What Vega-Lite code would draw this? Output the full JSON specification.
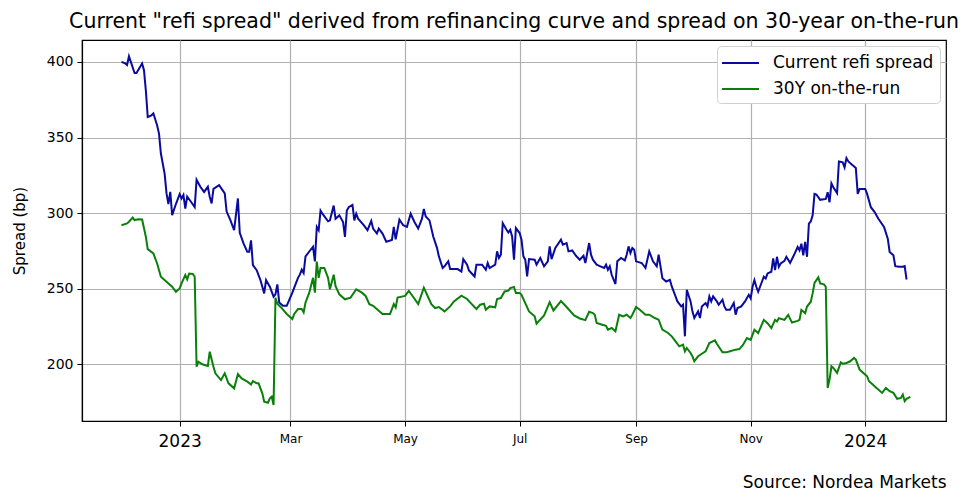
{
  "$schema": "https://vega.github.io/schema/vega-lite/v6.json",
  "autosize": {"type": "none"},
  "width": 864,
  "height": 381,
  "padding": {"left": 82, "top": 40, "right": 29, "bottom": 83},
  "background": "white",
  "title": {"text": "Current \"refi spread\" derived from refinancing curve and spread on 30-year on-the-run", "fontSize": 20.5, "font": "DejaVu Sans", "fontWeight": "normal", "anchor": "middle", "offset": 8, "color": "black"},
  "config": {
    "view": {"stroke": "black", "strokeWidth": 1.2},
    "font": "DejaVu Sans",
    "axis": {"labelFont": "DejaVu Sans", "titleFont": "DejaVu Sans", "labelColor": "black", "titleColor": "black", "domainColor": "black", "tickColor": "black", "gridColor": "#b0b0b0", "gridWidth": 1.2, "tickSize": 5, "domainWidth": 1.2, "titleFontWeight": "normal"}
  },
  "datasets": {
    "refi": [
      {"date":"2022-12-01","value":400},{"date":"2022-12-03","value":399},{"date":"2022-12-04","value":398},{"date":"2022-12-05","value":403.7},{"date":"2022-12-06","value":400},{"date":"2022-12-08","value":392.7},{"date":"2022-12-09","value":392.7},{"date":"2022-12-12","value":399},{"date":"2022-12-13","value":394.5},{"date":"2022-12-14","value":381},{"date":"2022-12-15","value":363.6},{"date":"2022-12-17","value":364.7},{"date":"2022-12-18","value":366},{"date":"2022-12-20","value":358},{"date":"2022-12-21","value":352.6},{"date":"2022-12-22","value":339.4},{"date":"2022-12-24","value":326},{"date":"2022-12-25","value":313},{"date":"2022-12-26","value":306},{"date":"2022-12-27","value":314},{"date":"2022-12-28","value":298.7},{"date":"2022-12-30","value":306},
      {"date":"2023-01-01","value":312.5},{"date":"2023-01-02","value":309.7},{"date":"2023-01-03","value":312},{"date":"2023-01-04","value":303},{"date":"2023-01-05","value":311},{"date":"2023-01-07","value":307.5},{"date":"2023-01-09","value":304},{"date":"2023-01-10","value":322},{"date":"2023-01-12","value":317.4},{"date":"2023-01-14","value":314},{"date":"2023-01-16","value":317.4},{"date":"2023-01-17","value":310.8},{"date":"2023-01-18","value":306.4},{"date":"2023-01-19","value":316},{"date":"2023-01-22","value":318.5},{"date":"2023-01-25","value":313},{"date":"2023-01-26","value":301},{"date":"2023-01-28","value":295.4},{"date":"2023-01-30","value":288.7},
      {"date":"2023-02-01","value":309.7},{"date":"2023-02-02","value":287},{"date":"2023-02-04","value":280},{"date":"2023-02-06","value":274.4},{"date":"2023-02-07","value":274.4},{"date":"2023-02-08","value":282},{"date":"2023-02-09","value":265.6},{"date":"2023-02-11","value":262.3},{"date":"2023-02-13","value":255.7},{"date":"2023-02-15","value":246.9},{"date":"2023-02-16","value":255.7},{"date":"2023-02-18","value":251.3},{"date":"2023-02-20","value":244.7},{"date":"2023-02-21","value":246.3},{"date":"2023-02-22","value":252.8},{"date":"2023-02-23","value":240.9},{"date":"2023-02-25","value":238.7},{"date":"2023-02-27","value":238.7},
      {"date":"2023-03-02","value":247.4},{"date":"2023-03-03","value":250.7},{"date":"2023-03-05","value":257.2},{"date":"2023-03-06","value":259.3},{"date":"2023-03-07","value":262.6},{"date":"2023-03-08","value":260.4},{"date":"2023-03-09","value":271.3},{"date":"2023-03-11","value":274.6},{"date":"2023-03-13","value":277.8},{"date":"2023-03-14","value":268},{"date":"2023-03-15","value":290.9},{"date":"2023-03-16","value":288.7},{"date":"2023-03-17","value":301.7},{"date":"2023-03-18","value":299.6},{"date":"2023-03-21","value":294.6},{"date":"2023-03-22","value":295.2},{"date":"2023-03-24","value":305},{"date":"2023-03-25","value":296.3},{"date":"2023-03-27","value":298.5},{"date":"2023-03-29","value":294.1},{"date":"2023-03-30","value":284.3},{"date":"2023-03-31","value":301.7},
      {"date":"2023-04-01","value":303.9},{"date":"2023-04-03","value":305.4},{"date":"2023-04-04","value":295.2},{"date":"2023-04-05","value":299.6},{"date":"2023-04-06","value":296.3},{"date":"2023-04-09","value":292},{"date":"2023-04-11","value":288.7},{"date":"2023-04-13","value":294.8},{"date":"2023-04-14","value":289.8},{"date":"2023-04-16","value":286.5},{"date":"2023-04-17","value":289.8},{"date":"2023-04-19","value":286.5},{"date":"2023-04-21","value":281.1},{"date":"2023-04-24","value":282.2},{"date":"2023-04-25","value":290.9},{"date":"2023-04-26","value":282.6},{"date":"2023-04-28","value":295.7},{"date":"2023-04-30","value":292},
      {"date":"2023-05-02","value":290.9},{"date":"2023-05-04","value":299.6},{"date":"2023-05-06","value":294.1},{"date":"2023-05-08","value":289.8},{"date":"2023-05-10","value":296.3},{"date":"2023-05-11","value":302.8},{"date":"2023-05-12","value":297.8},{"date":"2023-05-14","value":295.2},{"date":"2023-05-16","value":284.5},{"date":"2023-05-18","value":277},{"date":"2023-05-19","value":271.4},{"date":"2023-05-21","value":263.7},{"date":"2023-05-22","value":264.8},{"date":"2023-05-24","value":268.1},{"date":"2023-05-25","value":263},{"date":"2023-05-27","value":263},{"date":"2023-05-29","value":263},{"date":"2023-05-31","value":261.4},
      {"date":"2023-06-01","value":269.6},{"date":"2023-06-03","value":265.9},{"date":"2023-06-04","value":262.1},{"date":"2023-06-07","value":258.1},{"date":"2023-06-08","value":265.9},{"date":"2023-06-11","value":265.9},{"date":"2023-06-13","value":262.5},{"date":"2023-06-14","value":267},{"date":"2023-06-15","value":263.7},{"date":"2023-06-18","value":265.9},{"date":"2023-06-19","value":274.7},{"date":"2023-06-20","value":270.3},{"date":"2023-06-21","value":272.5},{"date":"2023-06-22","value":293.4},{"date":"2023-06-24","value":289},{"date":"2023-06-25","value":287.2},{"date":"2023-06-26","value":289},{"date":"2023-06-27","value":284.6},{"date":"2023-06-28","value":269.2},{"date":"2023-06-29","value":290.1},
      {"date":"2023-07-01","value":286.8},{"date":"2023-07-02","value":282.4},{"date":"2023-07-03","value":271.4},{"date":"2023-07-04","value":269.2},{"date":"2023-07-05","value":258.1},{"date":"2023-07-06","value":269.6},{"date":"2023-07-09","value":269.2},{"date":"2023-07-10","value":265.9},{"date":"2023-07-12","value":270.3},{"date":"2023-07-14","value":264.8},{"date":"2023-07-16","value":268.1},{"date":"2023-07-17","value":278},{"date":"2023-07-18","value":269.6},{"date":"2023-07-20","value":276.9},{"date":"2023-07-23","value":282.4},{"date":"2023-07-24","value":279.1},{"date":"2023-07-26","value":280.2},{"date":"2023-07-27","value":274.7},{"date":"2023-07-29","value":275.3},{"date":"2023-07-31","value":271.8},
      {"date":"2023-08-02","value":269.2},{"date":"2023-08-04","value":271.8},{"date":"2023-08-05","value":267},{"date":"2023-08-07","value":280.2},{"date":"2023-08-08","value":272.5},{"date":"2023-08-09","value":269.2},{"date":"2023-08-11","value":265.9},{"date":"2023-08-13","value":264.8},{"date":"2023-08-15","value":263.7},{"date":"2023-08-16","value":265.9},{"date":"2023-08-17","value":262.5},{"date":"2023-08-18","value":264.8},{"date":"2023-08-19","value":259.2},{"date":"2023-08-21","value":253.1},{"date":"2023-08-22","value":268.1},{"date":"2023-08-24","value":270.3},{"date":"2023-08-26","value":268.7},{"date":"2023-08-27","value":272.5},{"date":"2023-08-28","value":278},{"date":"2023-08-29","value":273.6},{"date":"2023-08-30","value":276.9},{"date":"2023-08-31","value":275.8},
      {"date":"2023-09-01","value":268.1},{"date":"2023-09-04","value":267},{"date":"2023-09-06","value":263.7},{"date":"2023-09-08","value":274.7},{"date":"2023-09-10","value":268.1},{"date":"2023-09-12","value":264.8},{"date":"2023-09-13","value":272.5},{"date":"2023-09-15","value":257},{"date":"2023-09-17","value":254.8},{"date":"2023-09-19","value":255.9},{"date":"2023-09-20","value":251.5},{"date":"2023-09-22","value":244.9},{"date":"2023-09-23","value":241.6},{"date":"2023-09-25","value":238.3},{"date":"2023-09-26","value":239.4},{"date":"2023-09-27","value":218.5},{"date":"2023-09-28","value":249.3},{"date":"2023-09-30","value":241.6},
      {"date":"2023-10-01","value":235},{"date":"2023-10-02","value":230.6},{"date":"2023-10-04","value":235},{"date":"2023-10-05","value":230.6},{"date":"2023-10-06","value":238.3},{"date":"2023-10-08","value":240.5},{"date":"2023-10-09","value":238.3},{"date":"2023-10-10","value":244.9},{"date":"2023-10-11","value":241.6},{"date":"2023-10-12","value":244.9},{"date":"2023-10-14","value":241.6},{"date":"2023-10-15","value":239.4},{"date":"2023-10-17","value":242.7},{"date":"2023-10-18","value":238.3},{"date":"2023-10-19","value":236.1},{"date":"2023-10-21","value":236.1},{"date":"2023-10-23","value":240.5},{"date":"2023-10-24","value":232.8},{"date":"2023-10-25","value":237.2},{"date":"2023-10-27","value":238.3},{"date":"2023-10-29","value":241.6},{"date":"2023-10-31","value":246},
      {"date":"2023-11-01","value":243.6},{"date":"2023-11-02","value":251.3},{"date":"2023-11-03","value":255.7},{"date":"2023-11-04","value":251.3},{"date":"2023-11-05","value":248},{"date":"2023-11-07","value":254.6},{"date":"2023-11-08","value":257.9},{"date":"2023-11-09","value":256.8},{"date":"2023-11-10","value":260.1},{"date":"2023-11-12","value":261.2},{"date":"2023-11-13","value":270},{"date":"2023-11-14","value":262.3},{"date":"2023-11-15","value":271.1},{"date":"2023-11-16","value":264.5},{"date":"2023-11-17","value":266.7},{"date":"2023-11-19","value":268.4},{"date":"2023-11-20","value":271.1},{"date":"2023-11-22","value":267.1},{"date":"2023-11-24","value":272.1},{"date":"2023-11-26","value":277.6},{"date":"2023-11-27","value":275.4},{"date":"2023-11-28","value":279.8},{"date":"2023-11-29","value":272.1},{"date":"2023-11-30","value":280.9},
      {"date":"2023-12-01","value":271.1},{"date":"2023-12-02","value":293},{"date":"2023-12-03","value":294.5},{"date":"2023-12-04","value":298.5},{"date":"2023-12-05","value":312.7},{"date":"2023-12-06","value":312.3},{"date":"2023-12-08","value":308.8},{"date":"2023-12-11","value":309.4},{"date":"2023-12-12","value":313.8},{"date":"2023-12-13","value":307.2},{"date":"2023-12-14","value":319.7},{"date":"2023-12-15","value":317.1},{"date":"2023-12-17","value":313.2},{"date":"2023-12-18","value":334.2},{"date":"2023-12-20","value":333.6},{"date":"2023-12-21","value":330.3},{"date":"2023-12-22","value":336.4},{"date":"2023-12-23","value":334.2},{"date":"2023-12-25","value":332},{"date":"2023-12-27","value":329.8},{"date":"2023-12-28","value":312.7},{"date":"2023-12-29","value":316},
      {"date":"2024-01-01","value":316},{"date":"2024-01-02","value":312.7},{"date":"2024-01-04","value":303.9},{"date":"2024-01-06","value":300.7},{"date":"2024-01-08","value":296.3},{"date":"2024-01-11","value":290.8},{"date":"2024-01-13","value":283.1},{"date":"2024-01-14","value":274.3},{"date":"2024-01-16","value":272.1},{"date":"2024-01-17","value":264.9},{"date":"2024-01-19","value":264.5},{"date":"2024-01-21","value":264.5},{"date":"2024-01-22","value":264.9},{"date":"2024-01-23","value":256.1}
    ],
    "otr": [
      {"date":"2022-12-01","value":292},{"date":"2022-12-04","value":293.2},{"date":"2022-12-05","value":294.3},{"date":"2022-12-07","value":297},{"date":"2022-12-08","value":295.4},{"date":"2022-12-10","value":296},{"date":"2022-12-12","value":295.8},{"date":"2022-12-14","value":284.3},{"date":"2022-12-15","value":276.2},{"date":"2022-12-18","value":273.3},{"date":"2022-12-20","value":266.7},{"date":"2022-12-22","value":257.9},{"date":"2022-12-25","value":254.6},{"date":"2022-12-28","value":251.3},{"date":"2022-12-30","value":248},
      {"date":"2023-01-01","value":250.2},{"date":"2023-01-02","value":253.5},{"date":"2023-01-04","value":259},{"date":"2023-01-05","value":256.1},{"date":"2023-01-06","value":260},{"date":"2023-01-08","value":259.7},{"date":"2023-01-09","value":257.9},{"date":"2023-01-10","value":198.4},{"date":"2023-01-11","value":201.7},{"date":"2023-01-13","value":200},{"date":"2023-01-16","value":198.9},{"date":"2023-01-17","value":208.3},{"date":"2023-01-19","value":198.4},{"date":"2023-01-20","value":194},{"date":"2023-01-23","value":189.6},{"date":"2023-01-25","value":194},{"date":"2023-01-27","value":187.4},{"date":"2023-01-30","value":184.1},
      {"date":"2023-02-01","value":193.6},{"date":"2023-02-03","value":190.7},{"date":"2023-02-06","value":188.5},{"date":"2023-02-08","value":186.7},{"date":"2023-02-09","value":188.9},{"date":"2023-02-11","value":187.4},{"date":"2023-02-12","value":187.4},{"date":"2023-02-14","value":180.8},{"date":"2023-02-15","value":175.3},{"date":"2023-02-17","value":174.6},{"date":"2023-02-18","value":177.5},{"date":"2023-02-19","value":178.6},{"date":"2023-02-20","value":173.1},{"date":"2023-02-21","value":244},{"date":"2023-02-22","value":240},{"date":"2023-02-24","value":237.6},{"date":"2023-02-27","value":233.3},
      {"date":"2023-03-02","value":230},{"date":"2023-03-03","value":233.3},{"date":"2023-03-05","value":236.5},{"date":"2023-03-07","value":236.5},{"date":"2023-03-08","value":234.3},{"date":"2023-03-09","value":240.9},{"date":"2023-03-11","value":247.4},{"date":"2023-03-13","value":257.2},{"date":"2023-03-14","value":247.4},{"date":"2023-03-15","value":268},{"date":"2023-03-16","value":257.2},{"date":"2023-03-17","value":263.7},{"date":"2023-03-19","value":263.7},{"date":"2023-03-21","value":257.2},{"date":"2023-03-22","value":249.6},{"date":"2023-03-24","value":259.3},{"date":"2023-03-25","value":251.7},{"date":"2023-03-27","value":246.3},{"date":"2023-03-30","value":243},
      {"date":"2023-04-02","value":244.1},{"date":"2023-04-05","value":249.6},{"date":"2023-04-08","value":247.4},{"date":"2023-04-10","value":245.2},{"date":"2023-04-12","value":239.8},{"date":"2023-04-14","value":238.7},{"date":"2023-04-17","value":235.4},{"date":"2023-04-19","value":233.3},{"date":"2023-04-20","value":233.3},{"date":"2023-04-23","value":233.3},{"date":"2023-04-25","value":239.8},{"date":"2023-04-26","value":237.6},{"date":"2023-04-27","value":244.1},
      {"date":"2023-05-01","value":245.2},{"date":"2023-05-03","value":248.5},{"date":"2023-05-05","value":245.2},{"date":"2023-05-08","value":239.8},{"date":"2023-05-11","value":250.7},{"date":"2023-05-13","value":245.2},{"date":"2023-05-15","value":239.8},{"date":"2023-05-17","value":237.2},{"date":"2023-05-19","value":237.9},{"date":"2023-05-22","value":235},{"date":"2023-05-25","value":238.3},{"date":"2023-05-27","value":241.6},{"date":"2023-05-31","value":245.4},
      {"date":"2023-06-03","value":243.2},{"date":"2023-06-05","value":240.5},{"date":"2023-06-08","value":236.6},{"date":"2023-06-10","value":239.4},{"date":"2023-06-12","value":240.1},{"date":"2023-06-13","value":236.1},{"date":"2023-06-15","value":238.3},{"date":"2023-06-18","value":237.7},{"date":"2023-06-19","value":243.2},{"date":"2023-06-21","value":243.8},{"date":"2023-06-23","value":248.2},{"date":"2023-06-25","value":248.7},{"date":"2023-06-26","value":250.4},{"date":"2023-06-28","value":251.1},{"date":"2023-06-29","value":247.1},
      {"date":"2023-07-01","value":247.1},{"date":"2023-07-02","value":246},{"date":"2023-07-04","value":240.5},{"date":"2023-07-06","value":235},{"date":"2023-07-09","value":231.7},{"date":"2023-07-10","value":226.8},{"date":"2023-07-14","value":232.3},{"date":"2023-07-17","value":241.1},{"date":"2023-07-19","value":235.6},{"date":"2023-07-23","value":241.8},{"date":"2023-07-26","value":237.9},{"date":"2023-07-30","value":232.3},
      {"date":"2023-08-02","value":230.3},{"date":"2023-08-05","value":229.2},{"date":"2023-08-07","value":234.7},{"date":"2023-08-09","value":233.9},{"date":"2023-08-10","value":232.8},{"date":"2023-08-11","value":227.3},{"date":"2023-08-14","value":226.2},{"date":"2023-08-16","value":225.5},{"date":"2023-08-17","value":222.9},{"date":"2023-08-19","value":224},{"date":"2023-08-21","value":221.8},{"date":"2023-08-23","value":232.8},{"date":"2023-08-25","value":231.7},{"date":"2023-08-27","value":232.8},{"date":"2023-08-29","value":230.6},{"date":"2023-08-30","value":232.8},
      {"date":"2023-09-01","value":237.9},{"date":"2023-09-03","value":236.1},{"date":"2023-09-06","value":232.8},{"date":"2023-09-08","value":232.8},{"date":"2023-09-11","value":230.6},{"date":"2023-09-13","value":229.5},{"date":"2023-09-15","value":222.9},{"date":"2023-09-18","value":220.7},{"date":"2023-09-20","value":218.5},{"date":"2023-09-22","value":215.2},{"date":"2023-09-24","value":211.9},{"date":"2023-09-26","value":213},{"date":"2023-09-27","value":208.6},{"date":"2023-09-28","value":210.8},{"date":"2023-09-30","value":207.5},
      {"date":"2023-10-01","value":205.3},{"date":"2023-10-02","value":202},{"date":"2023-10-04","value":205.3},{"date":"2023-10-06","value":207},{"date":"2023-10-08","value":208.6},{"date":"2023-10-10","value":214.1},{"date":"2023-10-13","value":215.8},{"date":"2023-10-14","value":213.6},{"date":"2023-10-17","value":207.9},{"date":"2023-10-19","value":207.9},{"date":"2023-10-21","value":208.6},{"date":"2023-10-24","value":209.7},{"date":"2023-10-26","value":210.1},{"date":"2023-10-28","value":213},{"date":"2023-10-30","value":217.4},
      {"date":"2023-11-01","value":216.2},{"date":"2023-11-03","value":222.8},{"date":"2023-11-05","value":220.6},{"date":"2023-11-08","value":229.4},{"date":"2023-11-10","value":227.2},{"date":"2023-11-12","value":223.9},{"date":"2023-11-14","value":229.4},{"date":"2023-11-15","value":228.3},{"date":"2023-11-16","value":230.5},{"date":"2023-11-19","value":229.4},{"date":"2023-11-21","value":232.7},{"date":"2023-11-23","value":227.6},{"date":"2023-11-26","value":228.7},{"date":"2023-11-27","value":229.4},{"date":"2023-11-28","value":236},{"date":"2023-11-30","value":233.8},
      {"date":"2023-12-01","value":238.2},{"date":"2023-12-03","value":241.4},{"date":"2023-12-04","value":246.9},{"date":"2023-12-05","value":253.9},{"date":"2023-12-07","value":257.5},{"date":"2023-12-08","value":253.5},{"date":"2023-12-10","value":252.9},{"date":"2023-12-11","value":251.3},{"date":"2023-12-12","value":184.4},{"date":"2023-12-13","value":189.9},{"date":"2023-12-14","value":198.7},{"date":"2023-12-15","value":197.6},{"date":"2023-12-17","value":194.3},{"date":"2023-12-19","value":201.3},{"date":"2023-12-20","value":200.4},{"date":"2023-12-22","value":200.9},{"date":"2023-12-24","value":202},{"date":"2023-12-26","value":204.2},{"date":"2023-12-27","value":203.1},{"date":"2023-12-29","value":196.5},{"date":"2023-12-31","value":194.3},
      {"date":"2024-01-02","value":192.1},{"date":"2024-01-03","value":188.8},{"date":"2024-01-05","value":186.6},{"date":"2024-01-07","value":184.4},{"date":"2024-01-10","value":181.1},{"date":"2024-01-12","value":184.4},{"date":"2024-01-14","value":182.2},{"date":"2024-01-16","value":181.1},{"date":"2024-01-18","value":177.2},{"date":"2024-01-20","value":177.8},{"date":"2024-01-21","value":180},{"date":"2024-01-22","value":175.6},{"date":"2024-01-23","value":177.2},{"date":"2024-01-25","value":178.5}
    ]
  },
  "encoding": {
    "x": {
      "field": "date", "type": "temporal",
      "scale": {"type": "utc", "domain": [{"year": 2022, "month": 11, "date": 10, "utc": true}, {"year": 2024, "month": 2, "date": 13, "utc": true}]},
      "axis": {
        "values": [
          {"year": 2023, "month": 1, "date": 1, "utc": true},
          {"year": 2023, "month": 3, "date": 1, "utc": true},
          {"year": 2023, "month": 5, "date": 1, "utc": true},
          {"year": 2023, "month": 7, "date": 1, "utc": true},
          {"year": 2023, "month": 9, "date": 1, "utc": true},
          {"year": 2023, "month": 11, "date": 1, "utc": true},
          {"year": 2024, "month": 1, "date": 1, "utc": true}
        ],
        "labelExpr": "utcmonth(datum.value) == 0 ? utcFormat(datum.value, '%Y') : utcFormat(datum.value, '%b')",
        "labelFontSize": {"condition": {"test": "utcmonth(datum.value) == 0", "value": 17}, "value": 12},
        "labelBaseline": "top",
        "labelPadding": 7,
        "title": "Source: Nordea Markets",
        "titleAnchor": "end",
        "titleAlign": "right",
        "titleFontSize": 17,
        "titlePadding": 25,
        "grid": true
      }
    },
    "y": {
      "field": "value", "type": "quantitative",
      "scale": {"domain": [162.5, 414.5], "nice": false, "zero": false},
      "axis": {"values": [200, 250, 300, 350, 400], "title": "Spread (bp)", "titleFontSize": 15, "labelFontSize": 14, "labelPadding": 4, "titlePadding": 19, "grid": true}
    },
    "color": {
      "type": "nominal",
      "scale": {"domain": ["Current refi spread", "30Y on-the-run"], "range": ["#0a0a9e", "#0a800a"]},
      "legend": {"title": null, "orient": "top-right", "offset": 6, "symbolType": "M-1.2,0H2.5", "symbolSize": 400, "symbolStrokeWidth": 2, "labelFontSize": 17, "labelLimit": 400, "labelFont": "DejaVu Sans", "labelColor": "black", "strokeColor": "#d0d0d0", "fillColor": "white", "cornerRadius": 4, "padding": 6, "rowPadding": 7, "labelOffset": 28}
    }
  },
  "layer": [
    {"data": {"name": "refi"}, "mark": {"type": "line", "strokeWidth": 2, "clip": true}, "encoding": {"color": {"datum": "Current refi spread"}}},
    {"data": {"name": "otr"}, "mark": {"type": "line", "strokeWidth": 2, "clip": true}, "encoding": {"color": {"datum": "30Y on-the-run"}}}
  ]
}
